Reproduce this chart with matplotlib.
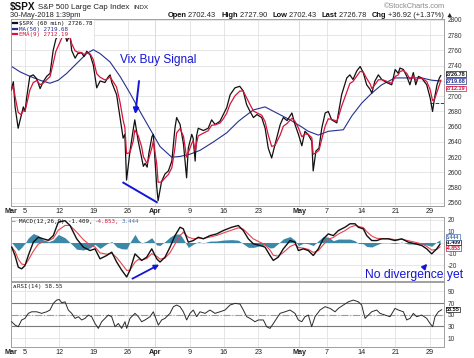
import numpy as np
import pandas as pd
import matplotlib
matplotlib.use("Agg")
import matplotlib.pyplot as plt

# x = trading-day index counted from 1-Mar-2018 (60 min chart)
tick_day = [0, 2, 7, 12, 17, 21, 26, 31, 36, 42, 46, 51, 56, 61]
tick_lbl = ["Mar", "5", "12", "19", "26", "Apr", "9", "16", "23", "May", "7", "14", "21", "29"]
month_ticks = ["Mar", "Apr", "May"]

price_day = [0.0, 0.3, 0.55, 1.0, 1.4, 1.75, 2.0, 2.25, 2.7, 3.2,
             3.7, 4.2, 4.65, 5.15, 5.65, 6.1, 6.5, 7.1, 7.55, 8.1,
             8.55, 8.8, 9.3, 9.7, 10.25, 10.6, 11.0, 11.5, 11.95, 12.45,
             12.95, 13.65, 14.1, 14.4, 14.65, 15.35, 15.85, 16.3, 16.55, 16.8,
             17.3, 17.8, 18.0, 18.5, 19.0, 19.25, 19.5, 19.8, 20.05, 20.5,
             20.7, 21.2, 21.4, 21.9, 22.4, 22.9, 23.4, 23.85, 24.1, 24.6,
             25.1, 25.55, 25.8, 26.3, 26.5, 26.8, 27.0, 27.25, 28.0, 28.7,
             29.2, 29.7, 30.4, 30.9, 31.4, 31.9, 32.6, 33.3, 33.8, 34.3,
             34.8, 35.3, 35.8, 36.5, 37.0, 37.45, 37.95, 38.45, 39.2, 39.65,
             40.2, 40.9, 41.35, 41.85, 42.35, 42.8, 43.25, 43.8, 44.0, 44.4,
             44.85, 45.25, 45.75, 46.2, 46.7, 47.45, 47.65, 48.15, 48.9, 49.35,
             49.8, 50.35, 50.85, 51.3, 51.8, 52.3, 52.55, 53.0, 53.5, 54.0,
             54.5, 54.95, 55.45, 55.95, 56.4, 56.65, 57.15, 57.65, 58.1, 58.6,
             58.95, 59.35, 59.8, 60.55, 61.05, 61.4, 61.7, 62.05, 62.4, 62.6]
price_val = [2708, 2719, 2686, 2658, 2673, 2686, 2680, 2699, 2726, 2728,
             2723, 2710, 2719, 2726, 2730, 2760, 2775, 2783, 2790, 2772,
             2780, 2760, 2750, 2756, 2757, 2752, 2759, 2754, 2741, 2711,
             2720, 2718, 2725, 2728, 2718, 2702, 2672, 2645, 2650, 2590,
             2628, 2658, 2669, 2641, 2619, 2608, 2612, 2607, 2625, 2647,
             2650, 2581, 2563, 2588, 2598, 2602, 2615, 2658, 2672, 2663,
             2637, 2593, 2632, 2650, 2645, 2615, 2648, 2658, 2655, 2658,
             2669, 2663, 2667, 2676, 2685, 2702, 2711, 2713, 2707, 2689,
             2680, 2672, 2676, 2672, 2658, 2632, 2619, 2637, 2663, 2672,
             2668, 2678, 2663, 2650, 2635, 2654, 2650, 2641, 2602, 2628,
             2632, 2658, 2678, 2680, 2669, 2665, 2676, 2702, 2724, 2728,
             2722, 2733, 2739, 2731, 2715, 2709, 2704, 2720, 2728, 2722,
             2719, 2717, 2715, 2735, 2730, 2737, 2735, 2726, 2715, 2731,
             2715, 2726, 2724, 2715, 2698, 2680, 2698, 2715, 2724, 2727]

ma_day = [0.06, 1.27, 2.73, 4.18, 5.64, 6.85, 8.08, 9.53, 10.99, 11.95,
          12.93, 14.39, 15.85, 17.3, 18.76, 20.22, 21.68, 23.38, 24.59, 26.05,
          27.51, 29.45, 31.4, 33.1, 33.8, 35.28, 36.98, 38.69, 40.63, 42.1,
          43.29, 44.75, 46.21, 48.4, 49.62, 51.08, 52.54, 53.99, 55.93, 57.87,
          59.82, 61.28, 62.6]
ma_val = [2739, 2732, 2726, 2721, 2717, 2721, 2730, 2743, 2756, 2761,
          2756, 2745, 2726, 2704, 2680, 2657, 2634, 2620, 2621, 2624,
          2629, 2640, 2652, 2667, 2672, 2682, 2686, 2678, 2669, 2661,
          2654, 2649, 2654, 2656, 2674, 2691, 2704, 2715, 2724, 2724,
          2724, 2721, 2720]
ref_level = 2691.5
ref_from = 61.0

macd_day = [0.06, 0.54, 1.02, 1.52, 2.0, 2.48, 3.21, 3.94, 4.66, 5.39,
            6.12, 6.85, 7.83, 8.56, 9.53, 10.5, 11.47, 12.2, 12.93, 13.91,
            14.64, 15.36, 16.09, 16.82, 17.3, 18.03, 18.51, 19.01, 19.74, 20.47,
            21.2, 21.68, 22.41, 23.14, 23.86, 24.59, 25.07, 25.8, 26.53, 27.26,
            27.99, 28.96, 29.94, 30.9, 32.13, 33.09, 33.82, 34.55, 35.28, 36.25,
            36.98, 37.71, 38.19, 38.92, 39.65, 40.63, 41.36, 41.84, 42.57, 43.29,
            44.02, 44.75, 45.48, 46.21, 46.94, 47.67, 48.64, 49.37, 50.1, 50.58,
            51.31, 51.81, 52.54, 53.26, 53.99, 54.96, 55.93, 56.91, 57.87, 58.85,
            59.82, 60.55, 61.28, 62.01, 62.49]
macd_val = [-4, -11.3, -21.5, -22.9, -20, -11.3, 0.3, 4.6, 3.2, 2,
            6, 17.7, 19, 14.8, 3.2, -4, -7, -5.5, -14.2, -11.3,
            -8.4, -17, -24, -30, -24, -9.9, -12.7, -15.6, -12.7, -5.5,
            -14.2, -17, -12.7, -4, 6, 13.3, 11.9, 0.3, 1.7, 4.6,
            3.2, 6, 7.5, 10.4, 13.3, 14.8, 10.4, 3.2, -1.1, -2.6,
            -4, -11.3, -15.6, -12.7, -5.5, 1.7, 0.3, -7, -5.5, -7,
            -11.3, -5.5, 3.2, 7.5, 6, 10.4, 13.3, 16.3, 16.3, 13.3,
            11.9, 6, 1.7, 1.7, 3.2, 3.2, 1.7, 3.2, 0.3, -1.1,
            -2.6, -5.5, -9.9, -5.5, -1.4]

rsi_day = [0.05, 0.54, 1.02, 1.51, 1.99, 2.48, 2.97, 3.7, 4.43, 5.15,
           5.64, 6.13, 6.61, 7.0, 7.34, 7.83, 8.31, 8.8, 9.29, 9.77,
           10.26, 10.74, 11.23, 11.71, 12.2, 12.69, 13.17, 13.66, 14.14, 14.63,
           15.12, 15.6, 16.09, 16.57, 16.82, 17.3, 18.03, 18.52, 19.0, 19.49,
           20.22, 20.7, 21.43, 21.92, 22.4, 23.13, 23.62, 24.1, 24.59, 25.08,
           25.56, 26.05, 26.53, 27.02, 27.5, 28.24, 28.96, 29.69, 30.42, 31.15,
           31.88, 32.61, 33.34, 33.82, 34.31, 34.8, 35.52, 36.01, 36.74, 37.22,
           37.71, 38.2, 38.68, 39.17, 39.9, 40.63, 41.35, 41.84, 42.33, 42.81,
           43.3, 43.78, 44.27, 45.0, 45.73, 46.46, 47.19, 47.67, 48.4, 49.13,
           49.86, 50.59, 51.07, 51.56, 52.04, 52.53, 53.26, 53.75, 54.47, 55.2,
           55.93, 56.42, 57.15, 57.63, 58.12, 58.6, 59.09, 59.82, 60.55, 61.03,
           61.42, 61.76, 62.25, 62.73]
rsi_val = [38, 32.3, 29.5, 41, 43.7, 52.3, 55, 55, 52.3, 55,
           58, 69.4, 75, 76, 70.5, 72, 58, 52.3, 43.7, 46.6,
           41, 43.7, 49.4, 46.6, 35, 26.6, 38, 43.7, 49.4, 46.6,
           29.5, 35, 26.6, 38, 26.6, 43.7, 52.3, 46.6, 38, 41,
           46.6, 55, 32.3, 41, 43.7, 52.3, 63.7, 66.5, 63.7, 55,
           41, 52.3, 58, 46.6, 55, 52.3, 58, 52.3, 55, 58,
           66.5, 69.4, 68.2, 58, 46.6, 43.7, 38, 41, 41, 29.5,
           26.6, 35, 43.7, 52.3, 55, 58, 52.3, 41, 38, 46.6,
           49.4, 29.5, 46.6, 58, 63.7, 60.8, 55, 60.8, 66.5, 72,
           75, 72, 66.5, 43.7, 49.4, 55, 58, 52.3, 49.4, 46.6,
           60.8, 58, 55, 41, 43.7, 52.3, 46.6, 49.4, 43.7, 35,
           29.5, 46.6, 55, 58.5]

# last values shown in the legends / tags
last_px, last_ma, last_ema = "2726.78", "2719.68", "2712.19"
last_macd, last_sig, last_hist = "-1.409", "-4.853", "3.444"
last_rsi = "58.55"

# indicators derived from the read series
ema = pd.Series(price_val).ewm(span=3, adjust=False).mean()
sig = pd.Series(macd_val).ewm(span=3, adjust=False).mean()
hist = np.array(macd_val) - sig.values

W, H = 474, 358
BLUE = "#1515d6"
NAVY = "#25318f"
RED = "#d8143c"
TEAL = "#3c88a8"
GRIDC = "#e2e2e2"
SANS = ["Liberation Sans", "DejaVu Sans"]
MONO = "DejaVu Sans Mono"

fig = plt.figure(figsize=(W / 100, H / 100), dpi=100)
fig.patch.set_facecolor("white")


def rect(l, t, r, b):
    return [l / W, 1 - b / H, (r - l) / W, (b - t) / H]


ax1 = fig.add_axes(rect(11.3, 19, 444, 206))
ax2 = fig.add_axes(rect(11.3, 217, 444, 281))
ax3 = fig.add_axes(rect(11.3, 282, 444, 347))

for ax in (ax1, ax2, ax3):
    ax.set_xlim(0, 63.07)
    ax.set_xticks(tick_day)
    ax.yaxis.tick_right()
    ax.tick_params(length=0, labelsize=4.7, colors="#333333", pad=2.5)
    ax.grid(True, color=GRIDC, lw=0.6)
    ax.set_axisbelow(True)
    for sp in ax.spines.values():
        sp.set_color("#a0a0a0")
        sp.set_linewidth(0.7)
    for d, lb in zip(tick_day, tick_lbl):
        if lb in ("Apr", "May"):
            ax.axvline(d, color="#b9b9b9", lw=0.7, zorder=0.5)


def date_labels(ax):
    ax.set_xticklabels(tick_lbl)
    for t in ax.get_xticklabels():
        t.set_family(SANS)
        t.set_fontsize(5.2)
        t.set_color("#222222")
        if t.get_text() in month_ticks:
            t.set_fontweight("bold")
    ax.tick_params(axis="x", pad=1.5)


def sans_y(ax):
    for t in ax.get_yticklabels():
        t.set_family(SANS)


# ---- price panel
ax1.set_ylim(2556, 2801.3)
price_ticks = list(range(2560, 2801, 20))
ax1.set_yticks(price_ticks)
# 2720 sits under the value tags in the original
ax1.set_yticklabels(["" if v == 2720 else str(v) for v in price_ticks])
sans_y(ax1)
date_labels(ax1)
l_px, = ax1.plot(price_day, price_val, color="#111111", lw=0.9, zorder=3)
l_ma, = ax1.plot(ma_day, ma_val, color=NAVY, lw=0.8, zorder=2)
l_ema, = ax1.plot(price_day, ema, color=RED, lw=0.9, zorder=4)
ax1.hlines(ref_level, ref_from, 63.07, colors=NAVY, linestyles="--", lw=0.7)
l_px.set_label("$SPX (60 min) " + last_px)
l_ma.set_label("MA(50) " + last_ma)
l_ema.set_label("EMA(9) " + last_ema)
leg = ax1.legend(handles=[l_px, l_ma, l_ema], loc="upper left",
                 prop={"family": MONO, "size": 4.2}, handlelength=0.7,
                 handletextpad=0.35, labelspacing=0.12, borderpad=0.15,
                 borderaxespad=0.15, fancybox=False, frameon=True,
                 facecolor="white", edgecolor="none", framealpha=1,
                 labelcolor="linecolor")
leg.set_zorder(6)
for ln in leg.get_lines():
    ln.set_linewidth(1.6)

# annotations on price panel
ax1.text(15.85, 2743.6, "Vix Buy Signal", color=BLUE, fontsize=8.6,
         family=SANS, va="baseline", ha="left", zorder=7)
ax1.annotate("", xy=(18.03, 2673), xytext=(18.66, 2723.5),
             arrowprops=dict(arrowstyle="-|>", color=BLUE, lw=1.4,
                             mutation_scale=8), zorder=7)
ax1.plot([16.33, 21.2], [2586.6, 2561], color=BLUE, lw=1.4, zorder=7)


def tag(ax, y, s, color, edge, z, dy=0.0, size=4.0):
    ax.annotate(s, xy=(1, y), xycoords=("axes fraction", "data"),
                xytext=(1.5, dy), textcoords="offset points", ha="left",
                va="center", fontsize=size, fontweight="bold", color=color,
                family=SANS, annotation_clip=False, zorder=z,
                bbox=dict(boxstyle="square,pad=0.05", fc="white", ec=edge, lw=0.5))


# value tags: nudged apart a little so they stay readable
tag(ax1, 2719.68, last_ma, NAVY, NAVY, 8)
tag(ax1, 2712.19, last_ema, RED, RED, 9, dy=-1.2)
tag(ax1, 2726.78, last_px, "#111111", "#111111", 10, dy=1.2)

# ---- MACD panel
ax2.set_ylim(-33.5, 22.2)
ax2.set_yticks([-30, -20, -10, 0, 10, 20])
ax2.set_yticklabels(["", "-20", "-10", "", "10", "20"])
sans_y(ax2)
ax2.set_xticklabels([])
ax2.fill_between(macd_day, 0, hist, color=TEAL, lw=0, zorder=2)
ax2.plot(macd_day, sig, color="#e8424f", lw=0.8, zorder=3)
ax2.plot(macd_day, macd_val, color="#111111", lw=1.0, zorder=4)
tag(ax2, -4.853, last_sig, RED, RED, 8, dy=0.0, size=3.8)
tag(ax2, -1.409, last_macd, "#111111", "#111111", 9, dy=1.05, size=3.8)
tag(ax2, 3.444, last_hist, "#4a6fb0", "#4a6fb0", 10, dy=1.0, size=3.8)

ax2.annotate("", xy=(21.92, -18.1), xytext=(17.3, -32.6),
             arrowprops=dict(arrowstyle="-|>", color=BLUE, lw=1.3,
                             mutation_scale=7), annotation_clip=False, zorder=7)
ax2.annotate("", xy=(60.9, -16.7), xytext=(60.06, -22.4),
             arrowprops=dict(arrowstyle="-|>", color=BLUE, lw=1.3,
                             mutation_scale=7), annotation_clip=False, zorder=7)
ax2.text(51.56, -31.3, "No divergence yet", color=BLUE, fontsize=8.7,
         family=SANS, va="baseline", ha="left", zorder=11, clip_on=False)

# ---- RSI panel
ax3.set_ylim(-5.2, 105.9)
ax3.set_yticks([10, 30, 50, 70, 90])
sans_y(ax3)
date_labels(ax3)
ax3.axhline(70, color="#7a7a7a", lw=0.8, zorder=1)
ax3.axhline(30, color="#7a7a7a", lw=0.8, zorder=1)
ax3.axhline(50, color="#9a9a9a", lw=0.8, ls="-.", zorder=1)
ax3.plot(rsi_day, rsi_val, color="#2a2a2a", lw=0.7, zorder=3)
tag(ax3, 58.55, last_rsi, "#111111", "#111111", 10)

# ---- header and legends
renderer = fig.canvas.get_renderer()


def seq(x_px, y_px, parts, size, family, gap=2.0):
    x = x_px
    for s, w, c in parts:
        t = fig.text(x / W, 1 - y_px / H, s, fontsize=size, fontweight=w,
                     color=c, family=family, va="center", ha="left")
        x += t.get_window_extent(renderer).width + gap
    return x


x_hdr = seq(10, 7, [("$SPX", "bold", "#111111")], 7.2, SANS, gap=3)
x_hdr = seq(x_hdr, 7.5, [("S&P 500 Large Cap Index", "normal", "#222222")], 5.7, SANS, gap=3)
seq(x_hdr, 7.5, [("INDX", "normal", "#222222")], 4.6, SANS)
fig.text(445 / W, 1 - 6.5 / H, "\u00a9StockCharts.com", fontsize=5.3,
         family=SANS, color="#8a8a8a", va="center", ha="right")
fig.text(10 / W, 1 - 15.5 / H, "30-May-2018 1:39pm", fontsize=5.3,
         family=SANS, color="#222222", va="center")
seq(168, 15.5, [("Open", "bold", "#111"), ("2702.43  ", "normal", "#222"),
                ("High", "bold", "#111"), ("2727.90  ", "normal", "#222"),
                ("Low", "bold", "#111"), ("2702.43  ", "normal", "#222"),
                ("Last", "bold", "#111"), ("2726.78  ", "normal", "#222"),
                ("Chg", "bold", "#111"), ("+36.92 (+1.37%)", "normal", "#222"),
                ("\u25b2", "normal", "#222")], 5.4, SANS, gap=1.5)

seq(12, 221.5, [("\u2014 MACD(12,26,9) " + last_macd + ",", "normal", "#111111"),
                (last_sig + ",", "normal", RED),
                (last_hist, "normal", "#4a6fb0")], 4.2, MONO, gap=2.5)
seq(13, 286.5, [("\u028c", "bold", "#333333"),
                ("RSI(14) " + last_rsi, "normal", "#222222")], 4.2, MONO, gap=0.5)

fig.savefig("out.png", dpi=100)
